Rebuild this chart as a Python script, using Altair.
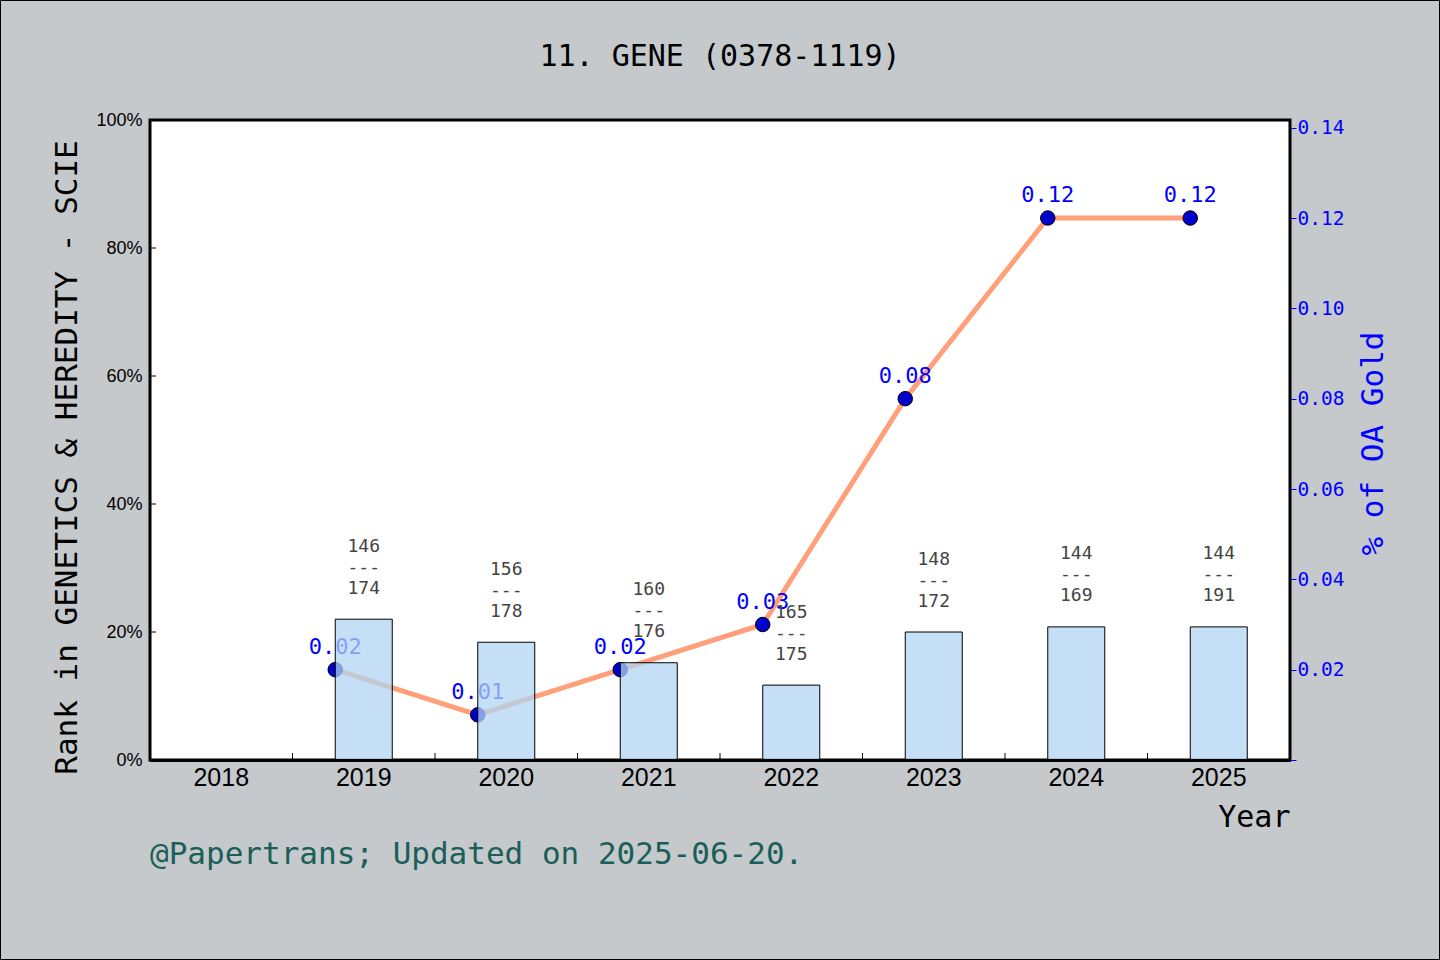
import altair as alt
import pandas as pd

years = ["2018", "2019", "2020", "2021", "2022", "2023", "2024", "2025"]
bar_years = ["2019", "2020", "2021", "2022", "2023", "2024", "2025"]
rank_pct = [22.0, 18.4, 15.2, 11.7, 20.0, 20.8, 20.8]
rank_pos = [146, 156, 160, 165, 148, 144, 144]
rank_total = [174, 178, 176, 175, 172, 169, 191]
oa_gold = [0.02, 0.01, 0.02, 0.03, 0.08, 0.12, 0.12]
left_ticks = [0, 20, 40, 60, 80, 100]
right_ticks = [0, 0.02, 0.04, 0.06, 0.08, 0.10, 0.12, 0.14]

MONO = "DejaVu Sans Mono"

bars_df = pd.DataFrame({
    "year": bar_years,
    "pct": rank_pct,
    "label": [f"{p}\n---\n{t}" for p, t in zip(rank_pos, rank_total)],
})
oa_df = pd.DataFrame({"year": bar_years, "oa": oa_gold})
lt_df = pd.DataFrame({"pct": left_ticks[1:-1]})
xt_df = pd.DataFrame({"year": bar_years})
one_df = pd.DataFrame({"a": [0]})

x_scale = alt.Scale(domain=years, paddingInner=0, paddingOuter=0)
x_axis = alt.Axis(
    title="Year", labelFont="Liberation Sans", labelFontSize=25,
    labelColor="black", labelPadding=5, ticks=False, domain=True,
    domainColor="black", domainWidth=3, zindex=1, labelAngle=0, grid=False,
    titleFont=MONO, titleFontSize=30, titleFontWeight="normal",
    titleColor="black", titleAnchor="end", titleAlign="right",
    titleX=1140, titleY=57, titleBaseline="middle",
)


def X(bp=None):
    if bp is None:
        return alt.X("year:N", scale=x_scale, axis=x_axis)
    return alt.X("year:N", scale=x_scale, axis=x_axis, bandPosition=bp)


left_scale = alt.Scale(domain=[0, 100], nice=False)
left_axis = alt.Axis(
    orient="left", values=left_ticks, labelExpr="datum.value + '%'",
    labelFont="Liberation Sans", labelFontSize=18, labelColor="black",
    ticks=False, domain=False, grid=False, labelPadding=8,
    title="Rank in GENETICS & HEREDITY - SCIE", titleFont=MONO,
    titleFontSize=31, titleFontWeight="normal", titleColor="black",
    titleAngle=270, titleX=-83, titleY=337, titleAlign="center",
    titleBaseline="middle",
)
Yl = alt.Y("pct:Q", scale=left_scale, axis=left_axis)

right_scale = alt.Scale(domain=[0, 0.1417], nice=False, zero=True)
right_axis = alt.Axis(
    orient="right", values=right_ticks,
    labelExpr="datum.value == 0 ? '' : format(datum.value, '.2f')",
    labelFont=MONO, labelFontSize=19.5, labelColor="blue",
    tickColor="blue", tickSize=6, tickWidth=1, labelPadding=1,
    domain=False, grid=False, title="% of OA Gold", titleFont=MONO,
    titleFontSize=31, titleFontWeight="normal", titleColor="blue",
    titleAngle=270, titleX=83, titleY=323, titleAlign="center",
    titleBaseline="middle",
)
Yr = alt.Y("oa:Q", scale=right_scale, axis=right_axis)

line = alt.Chart(oa_df).mark_line(color="#ffa07a", strokeWidth=5).encode(x=X(0.3), y=Yr)
points = alt.Chart(oa_df).mark_circle(
    size=210, color="#0000cd", stroke="black", strokeWidth=1, opacity=1
).encode(x=X(0.3), y=Yr)
plabels = alt.Chart(oa_df).mark_text(
    font=MONO, fontSize=22, color="blue", baseline="alphabetic", dy=-16
).encode(x=X(0.3), y=Yr, text=alt.Text("oa:Q", format=".2f"))
right_group = alt.layer(line, points, plabels)

bars = alt.Chart(bars_df).mark_bar(
    width=alt.RelativeBandSize(0.4), fill="#b0d4f3", fillOpacity=0.75,
    stroke="black", strokeWidth=1,
).encode(x=X(), y=Yl)
rlabels = alt.Chart(bars_df).mark_text(
    font=MONO, fontSize=18, color="#444444", baseline="bottom",
    lineBreak="\n", lineHeight=21, dy=-63.5, align="center",
).encode(x=X(), y=Yl, text="label:N")
lticks = alt.Chart(lt_df).mark_rule(color="black", strokeWidth=1).encode(
    y=Yl, x=alt.value(0), x2=alt.value(6)
)
xticks = alt.Chart(xt_df).mark_rule(color="black", strokeWidth=1).encode(
    x=X(0), y=alt.value(633), y2=alt.value(640)
)
left_group = alt.layer(bars, rlabels, lticks, xticks)

footer = alt.Chart(one_df).mark_text(
    text="@Papertrans; Updated on 2025-06-20.", font=MONO, fontSize=31,
    color="#1a5e58", align="left", baseline="middle",
).encode(x=alt.value(0), y=alt.value(735))

frame = alt.Chart(one_df).mark_rect(
    fillOpacity=0, stroke="black", strokeWidth=1
).encode(
    x=alt.value(-149.5), x2=alt.value(1289.5),
    y=alt.value(-119.5), y2=alt.value(839.5),
)

chart = alt.layer(right_group, left_group, footer, frame).resolve_scale(
    y="independent"
).properties(
    width=1140, height=640,
    title=alt.TitleParams(
        text="11. GENE (0378-1119)", font=MONO, fontSize=30,
        fontWeight="normal", color="black", anchor="middle", offset=-72,
    ),
    autosize=alt.AutoSizeParams(type="none"),
    padding={"left": 150, "top": 120, "right": 150, "bottom": 200},
).configure(background="#c5c9cc").configure_view(
    stroke="black", strokeWidth=3, fill="white"
)

chart.save("out.html", embed_options={"renderer": "svg", "actions": False})
